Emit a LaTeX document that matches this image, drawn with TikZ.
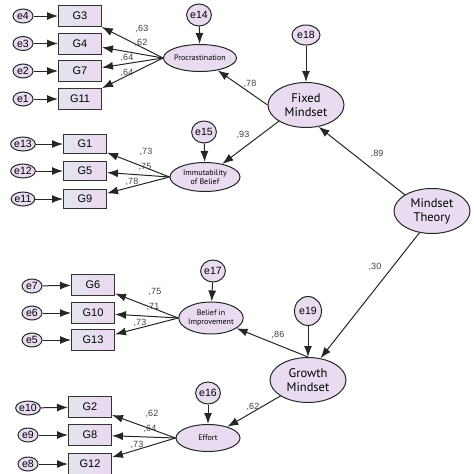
\documentclass[tikz,border=0pt]{standalone}
\usepackage{fontspec}
\setmainfont{Liberation Sans}
\newfontfamily\latfont{PT Sans}
\usetikzlibrary{shapes.geometric,arrows.meta}
\definecolor{lav}{HTML}{E9DCF1}
\definecolor{boxl}{HTML}{E4E4EE}
\definecolor{boxr}{HTML}{EAD8F0}
\begin{document}
\begin{tikzpicture}[x=1pt,y=-1pt,
 obs/.style={draw=black!80, line width=1pt, left color=boxl, right color=boxr, minimum width=43pt, minimum height=21pt, inner sep=0pt, font=\fontsize{11}{12}\selectfont},
 err/.style={ellipse, draw=black!85, line width=1pt, fill=lav, inner sep=0pt, minimum width=20pt, minimum height=14pt, font=\fontsize{10.5}{11}\selectfont},
 lat/.style={ellipse, draw=black!85, line width=1pt, fill=lav, inner sep=0pt, align=center},
 big/.style={lat, minimum width=76pt, minimum height=45pt, font=\latfont\fontsize{12.5}{14}\selectfont},
 small/.style={lat, font=\latfont\fontsize{8}{9}\selectfont},
 coef/.style={font=\fontsize{9}{10}\selectfont, text=black!75, inner sep=0pt},
 arr/.style={-{Latex[length=11pt,width=8pt]}, line width=1pt, draw=black!85},
]
\useasboundingbox (0,0) rectangle (474,474);

% latent variables
\node[big] (fixed) at (306,105) {Fixed\\Mindset};
\node[big] (theory) at (432,211) {Mindset\\Theory};
\node[big] (growth) at (308,380) {Growth\\Mindset};
\node[small, minimum width=67pt, minimum height=27pt] (proc) at (200,58) {Procrastination};
\node[small, minimum width=70pt, minimum height=29pt] (immu) at (205,177) {Immutability\\of Belief};
\node[small, minimum width=62pt, minimum height=32pt] (belief) at (211,318) {Belief in\\Improvement};
\node[small, minimum width=64pt, minimum height=27pt] (effort) at (208,438) {Effort};

% disturbances
\node[err, minimum width=28pt, minimum height=20pt] (e18) at (306,35) {e18};
\node[err, minimum width=27pt, minimum height=29pt] (e19) at (308,311) {e19};
\node[err, minimum width=21pt, minimum height=22pt] (e14) at (199,15) {e14};
\node[err, minimum width=21pt, minimum height=22pt] (e15) at (204,132) {e15};
\node[err, minimum width=21pt, minimum height=22pt] (e17) at (213,271) {e17};
\node[err, minimum width=21pt, minimum height=22pt] (e16) at (208,393) {e16};

% observed
\node[obs] (G3) at (80,16) {G3};
\node[obs] (G4) at (80,43.5) {G4};
\node[obs] (G7) at (80,71) {G7};
\node[obs] (G11) at (80,99) {G11};
\node[obs, minimum height=19pt] (G1) at (85,144) {G1};
\node[obs, minimum height=19pt] (G5) at (85,171) {G5};
\node[obs, minimum height=19pt] (G9) at (85,199) {G9};
\node[obs] (G6) at (93,285) {G6};
\node[obs] (G10) at (93,313) {G10};
\node[obs] (G13) at (93,340) {G13};
\node[obs] (G2) at (90,407) {G2};
\node[obs] (G8) at (90,435) {G8};
\node[obs] (G12) at (90,464) {G12};

% error terms
\node[err] (e4) at (23,16) {e4};
\node[err] (e3) at (23,43.5) {e3};
\node[err] (e2) at (23,71) {e2};
\node[err] (e1) at (23,99) {e1};
\node[err] (e13) at (23,144) {e13};
\node[err] (e12) at (23,171) {e12};
\node[err] (e11) at (23,199) {e11};
\node[err] (e7) at (32,286) {e7};
\node[err] (e6) at (32,313) {e6};
\node[err] (e5) at (32,340) {e5};
\node[err] (e10) at (28,408) {e10};
\node[err] (e9) at (28,435) {e9};
\node[err] (e8) at (28,464) {e8};

% error arrows
\foreach \e/\g in {e4/G3,e3/G4,e2/G7,e1/G11,e13/G1,e12/G5,e11/G9,e7/G6,e6/G10,e5/G13,e10/G2,e9/G8,e8/G12}
  \draw[arr] (\e) -- (\g);
\foreach \e/\l in {e18/fixed,e19/growth,e14/proc,e15/immu,e17/belief,e16/effort}
  \draw[arr] (\e) -- (\l);

% loadings
\foreach \g in {G3,G4,G7,G11} \draw[arr] (proc.west) -- (\g);
\foreach \g in {G1,G5,G9} \draw[arr] (immu.west) -- (\g);
\foreach \g in {G6,G10,G13} \draw[arr] (belief.west) -- (\g);
\foreach \g in {G2,G8,G12} \draw[arr] (effort.west) -- (\g);

% structural paths
\draw[arr] (fixed.west) -- (proc);
\draw[arr] (fixed.south west) -- (immu);
\draw[arr] (theory.north west) -- (fixed.-60);
\draw[arr] (theory.240) -- (growth.60);
\draw[arr] (growth.north) -- (belief);
\draw[arr] (growth) -- (effort);

% coefficients
\node[coef] (c1) at (142,29) {,63};
\node[coef] (c2) at (141,43) {,62};
\node[coef] (c3) at (127,58) {,64};
\node[coef] (c4) at (127,73) {,64};
\node[coef] (c5) at (146,152) {,73};
\node[coef] (c6) at (145,167) {,75};
\node[coef] (c7) at (132,182) {,78};
\node[coef] (c8) at (155,292) {,75};
\node[coef] (c9) at (153,307) {,71};
\node[coef] (c10) at (140,323) {,73};
\node[coef] (c11) at (152,414) {,62};
\node[coef] (c12) at (150,429) {,64};
\node[coef] (c13) at (137,445) {,73};
\node[coef] (c14) at (250,84) {,78};
\node[coef] (c15) at (243,135) {,93};
\node[coef] (c16) at (377,154) {,89};
\node[coef] (c17) at (375,267) {,30};
\node[coef] (c18) at (278,335) {,86};
\node[coef] (c19) at (253,407) {,62};
\end{tikzpicture}
\end{document}
